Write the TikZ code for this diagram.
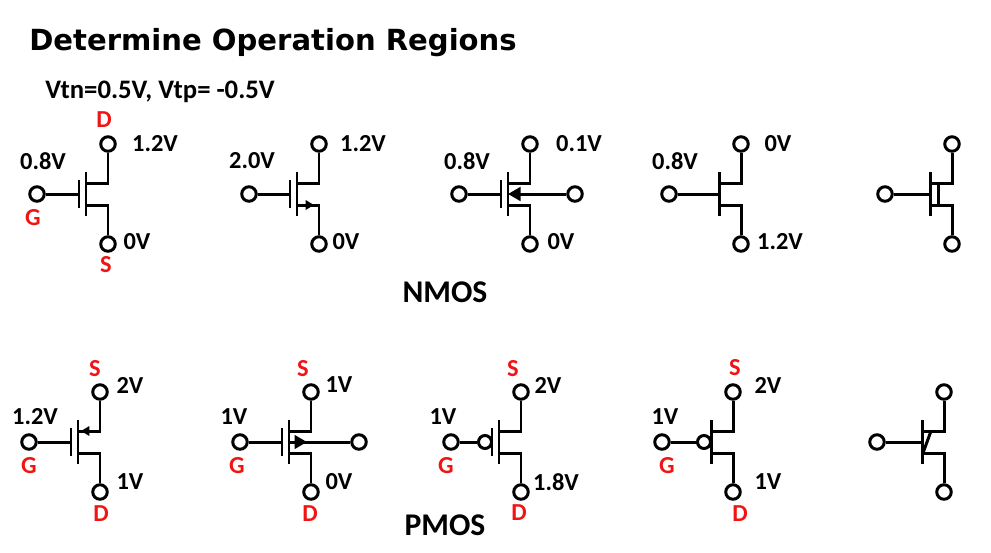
\documentclass[tikz,border=0pt]{standalone}
\usepackage{fontspec}
\setmainfont{Carlito}
\newfontfamily\titlefont{DejaVu Sans}
\usetikzlibrary{arrows.meta}
\definecolor{tagred}{RGB}{240,20,20}
\tikzset{
  wire/.style={line width=1.7pt,black},
  term/.style={circle,draw,line width=1.7pt,fill=white,minimum size=0.29cm,inner sep=0pt},
  bubble/.style={circle,draw,line width=1.7pt,fill=white,minimum size=0.26cm,inner sep=0pt},
  lab/.style={font=\fontsize{13.9}{15}\selectfont\bfseries,inner sep=0pt},
  tag/.style={lab,text=tagred},
  head/.style={font=\fontsize{18}{20}\selectfont\bfseries,inner sep=0pt},
  tipS/.style={-{Triangle[length=0.17cm,width=0.19cm]}},
  tipL/.style={-{Triangle[length=0.25cm,width=0.27cm]}},
}
% name, channel x, mid y, gate terminal x
\newcommand{\fet}[4]{
  \node[term] (#1g) at (#4,#3) {};
  \node[term] (#1d) at (#2+22,#3-50) {};
  \node[term] (#1s) at (#2+22,#3+50) {};
  \coordinate (#1c) at (#2,#3);
  \coordinate (#1top) at (#2,#3-11);
  \coordinate (#1bot) at (#2,#3+11);
  \coordinate (#1p) at (#2-7,#3);
  \draw[wire] (#2,#3-22) -- (#2,#3+22);
  \draw[wire] (#1d) |- (#1top);
  \draw[wire] (#1s) |- (#1bot);
}
% name, plate x, mid y
\newcommand{\plate}[3]{
  \draw[wire] (#2,#3-14) -- (#2,#3+14);
}
\begin{document}
\begin{tikzpicture}[x=0.02cm,y=-0.02cm,line cap=butt,line join=miter]
\useasboundingbox (0,0) rectangle (991,552);
\node[anchor=west,inner sep=0pt,font=\titlefont\fontsize{16.55}{20}\selectfont\bfseries] (title) at (29,43) {Determine Operation Regions};
\node[anchor=west,inner sep=0pt,font=\fontsize{15.2}{16}\selectfont\bfseries] (vth) at (45,92) {Vtn=0.5V, Vtp= -0.5V};
% NMOS row
\fet{a}{86}{194}{37}
\draw[wire] (ag) -- (ap); \plate{a}{79}{194}
\node[tag] (ad) at (104,120) {D};
\node[lab] (avd) at (155,144) {1.2V};
\node[lab] (avg) at (43,161) {0.8V};
\node[tag] (ag2) at (33,218) {G};
\node[lab] (avs) at (137,242) {0V};
\node[tag] (as2) at (106,265) {S};
\fet{b}{297}{194}{249}
\draw[wire] (bg) -- (bp); \plate{b}{290}{194}
\coordinate (btip) at (314,205);
\draw[wire,tipS] (bbot) -- (btip);
\node[lab] (bvg) at (252,161) {2.0V};
\node[lab] (bvd) at (363,144) {1.2V};
\node[lab] (bvs) at (346,242) {0V};
\fet{c}{508}{194}{459}
\draw[wire] (cg) -- (cp); \plate{c}{501}{194}
\node[term] (cb) at (575,194) {};
\draw[wire,tipL] (cb) -- (cc);
\node[lab] (cvg) at (467,161) {0.8V};
\node[lab] (cvd) at (579,144) {0.1V};
\node[lab] (cvs) at (561,242) {0V};
\fet{d}{719}{194}{669}
\draw[wire] (dg) -- (dc);
\node[lab] (dvg) at (675,161) {0.8V};
\node[lab] (dvd) at (778,144) {0V};
\node[lab] (dvs) at (780,242) {1.2V};
\fet{e}{930}{194}{885}
\draw[wire] (eg) -- (ec);
\coordinate (eup) at (938,183);
\coordinate (edn) at (938,205);
\draw[wire] (eup) -- (edn);
\node[head] (nmos) at (445,292) {NMOS};
% PMOS row
\fet{f}{78}{442}{29}
\draw[wire] (fg) -- (fp); \plate{f}{71}{442}
\coordinate (ftip) at (81,431);
\coordinate (fbase) at (92,431);
\draw[wire,tipS] (fbase) -- (ftip);
\node[tag] (fs2) at (95,369) {S};
\node[lab] (fvs) at (130,385) {2V};
\node[lab] (fvg) at (35,417) {1.2V};
\node[tag] (fg2) at (29,466) {G};
\node[lab] (fvd) at (130,482) {1V};
\node[tag] (fd2) at (101,514) {D};
\fet{h}{289}{442}{240}
\draw[wire] (hg) -- (hp); \plate{h}{282}{442}
\node[term] (hb) at (359,442) {};
\coordinate (htip) at (307,442);
\draw[wire] (hb) -- (hc);
\draw[wire,tipL] (hc) -- (htip);
\node[tag] (hs2) at (303,369) {S};
\node[lab] (hvs) at (339,385) {1V};
\node[lab] (hvg) at (234,417) {1V};
\node[tag] (hg2) at (237,466) {G};
\node[lab] (hvd) at (339,482) {0V};
\node[tag] (hd2) at (310,514) {D};
\fet{i}{499}{442}{451}
\plate{i}{492}{442}
\node[bubble] (ib) at (485,442) {};
\draw[wire] (ig) -- (ib);
\node[tag] (is2) at (513,369) {S};
\node[lab] (ivs) at (548,385) {2V};
\node[lab] (ivg) at (443,417) {1V};
\node[tag] (ig2) at (446,466) {G};
\node[lab] (ivd) at (556,482) {1.8V};
\node[tag] (id2) at (519,513) {D};
\fet{j}{711}{442}{662}
\draw[wire] (jg) -- (jc);
\node[bubble] (jb) at (704,442) {};
\node[tag] (js2) at (735,368) {S};
\node[lab] (jvs) at (768,385) {2V};
\node[lab] (jvg) at (665,417) {1V};
\node[tag] (jg2) at (667,466) {G};
\node[lab] (jvd) at (768,482) {1V};
\node[tag] (jd2) at (740,514) {D};
\fet{k}{922}{442}{877}
\draw[wire] (kg) -- (kc);
\coordinate (kup) at (931,431);
\coordinate (kdn) at (923,453);
\draw[wire] (kup) -- (kdn);
\node[head] (pmos) at (445,525) {PMOS};
\end{tikzpicture}
\end{document}
